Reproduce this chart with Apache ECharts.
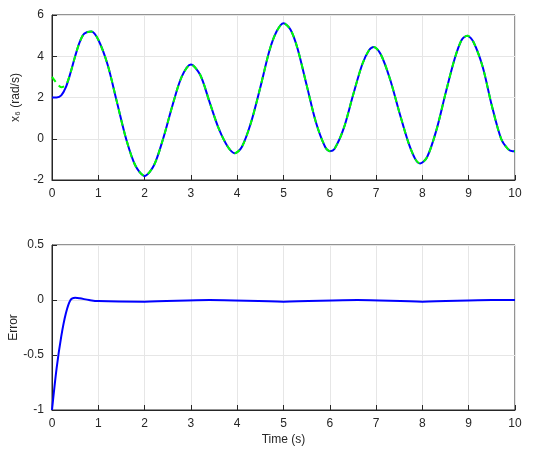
<!DOCTYPE html><html><head><meta charset="utf-8">
<script src="https://cdn.jsdelivr.net/npm/echarts@6/dist/echarts.min.js"></script>
<style>html,body{margin:0;padding:0;background:#fff}#c{width:550px;height:459px}</style></head><body><div id="c"></div>
<script>
const times=[0,0.1,0.2,0.3,0.4,0.5,0.6,0.7,0.85,1.0,1.2,1.4,1.6,1.8,2.0,2.2,2.4,2.6,2.8,3.0,3.2,3.4,3.6,3.8,3.95,4.1,4.3,4.5,4.7,4.85,5.0,5.15,5.3,5.5,5.7,5.9,6.0,6.1,6.3,6.5,6.7,6.85,6.95,7.1,7.3,7.5,7.7,7.85,7.95,8.1,8.3,8.5,8.7,8.85,8.97,9.1,9.3,9.5,9.7,9.85,9.95,10];
const x6=[2.0,2.0,2.1,2.5,3.2,4.0,4.7,5.1,5.2,4.8,3.6,1.8,0.0,-1.3,-1.8,-1.3,0.0,1.6,3.0,3.6,3.1,1.8,0.5,-0.4,-0.7,-0.4,0.8,2.5,4.3,5.2,5.6,5.3,4.4,2.6,0.8,-0.4,-0.6,-0.5,0.5,2.1,3.6,4.3,4.45,4.1,2.9,1.3,-0.2,-1.0,-1.2,-0.9,0.4,2.2,3.9,4.8,5.0,4.7,3.5,1.6,0.0,-0.5,-0.6,-0.6];
const x6ref=[3.0,2.7,2.5,2.6,3.2,4.0,4.7,5.1,5.2,4.8,3.6,1.8,0.0,-1.3,-1.8,-1.3,0.0,1.6,3.0,3.6,3.1,1.8,0.5,-0.4,-0.7,-0.4,0.8,2.5,4.3,5.2,5.6,5.3,4.4,2.6,0.8,-0.4,-0.6,-0.5,0.5,2.1,3.6,4.3,4.45,4.1,2.9,1.3,-0.2,-1.0,-1.2,-0.9,0.4,2.2,3.9,4.8,5.0,4.7,3.5,1.6,0.0,-0.5,-0.6,-0.6];
const errT=[0,0.1,0.2,0.3,0.4,0.5,0.6,0.8,1.0,2.0,3.4,5.0,6.6,8.0,9.5,10];
const errV=[-1,-0.62,-0.33,-0.12,0.0,0.02,0.015,0.0,-0.01,-0.015,0.0,-0.015,0.0,-0.015,0.0,0.0];
const pairs=(t,v)=>t.map((x,i)=>[x,v[i]]);
const ax={fontFamily:'Liberation Sans',fontSize:12,color:'#262626'};
const xa=(gi,name)=>({gridIndex:gi,type:'value',min:0,max:10,interval:1,name:name,nameLocation:'middle',nameGap:24,nameTextStyle:ax,
 axisLine:{onZero:false,lineStyle:{color:'#262626'}},axisTick:{inside:true,lineStyle:{color:'#262626'}},axisLabel:ax,splitLine:{show:true,lineStyle:{color:'#e6e6e6'}}});
const ya=(gi,min,max,iv,name,gap)=>({gridIndex:gi,type:'value',min:min,max:max,interval:iv,name:name,nameLocation:'middle',nameGap:gap,nameMoveOverlap:false,nameTextStyle:ax,
 axisLine:{onZero:false,lineStyle:{color:'#262626'}},axisTick:{inside:true,lineStyle:{color:'#262626'}},axisLabel:ax,splitLine:{show:true,lineStyle:{color:'#e6e6e6'}}});
const c=echarts.init(document.getElementById('c'));
c.setOption({animation:false,
 grid:[{left:52,top:15,width:463,height:165,show:true,borderColor:'#262626',borderWidth:1,containLabel:false,outerBoundsMode:'none'},
       {left:52,top:245,width:463,height:165,show:true,borderColor:'#262626',borderWidth:1,containLabel:false,outerBoundsMode:'none'}],
 xAxis:[xa(0,''),xa(1,'Time (s)')],
 yAxis:[ya(0,-2,6,2,'x₆ (rad/s)',30),ya(1,-1,0.5,0.5,'Error',32)],
 series:[
  {type:'line',xAxisIndex:0,yAxisIndex:0,data:pairs(times,x6),smooth:0.3,showSymbol:false,lineStyle:{color:'#0000ff',width:2}},
  {type:'line',xAxisIndex:0,yAxisIndex:0,data:pairs(times,x6ref),smooth:0.3,showSymbol:false,lineStyle:{color:'#00ff00',width:2,type:[6,5]}},
  {type:'line',xAxisIndex:1,yAxisIndex:1,data:pairs(errT,errV),smooth:0.3,showSymbol:false,lineStyle:{color:'#0000ff',width:2}}
 ]});
</script></body></html>
